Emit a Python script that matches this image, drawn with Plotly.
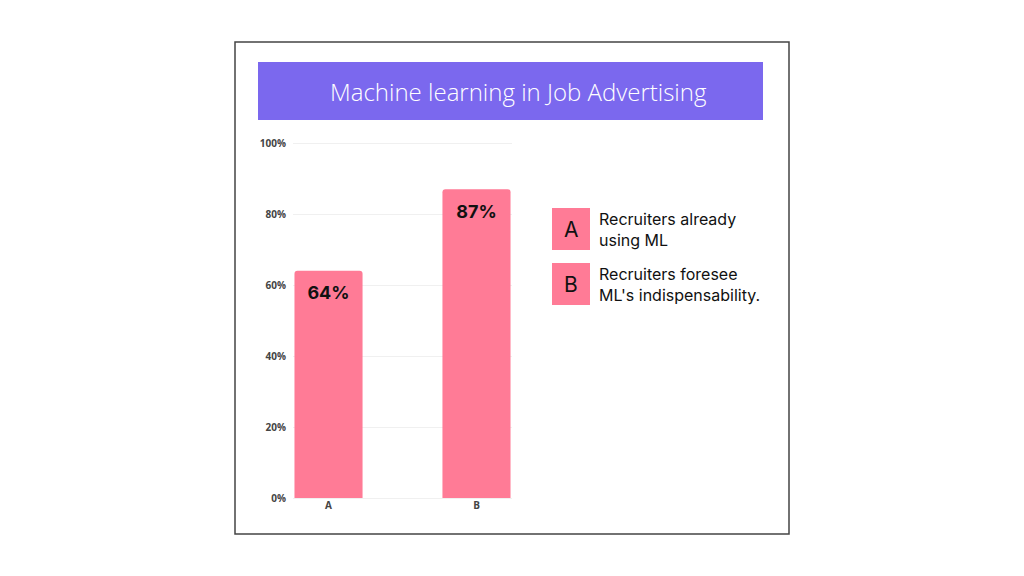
import plotly.graph_objects as go

W, H = 1024, 576

categories = ["A", "B"]
values = [64, 87]
descriptions = ["Recruiters already<br>using ML", "Recruiters foresee<br>ML's indispensability."]
title = "Machine learning in Job Advertising"
tick_vals = [0, 20, 40, 60, 80, 100]
tick_text = ["0%", "20%", "40%", "60%", "80%", "100%"]

pink = "#FF7B96"
purple = "#7B68EE"

# page body adds an 8px offset, so work in page pixels
OFF = 8


def px_x(x):
    return (x - OFF) / W


def px_y(y):
    return 1 - (y - OFF) / H


fig = go.Figure()

fig.add_trace(go.Bar(
    x=categories,
    y=values,
    width=0.46,
    marker=dict(color=pink, line=dict(width=0)),
    hoverinfo="skip",
))

# value labels sit a little below the bar tops
fig.add_trace(go.Scatter(
    x=categories,
    y=[v - 6.8 for v in values],
    mode="text",
    text=[f"{v}%" for v in values],
    textposition="middle center",
    textfont=dict(family="Inter", size=18, color="#111111", weight="bold"),
    hoverinfo="skip",
))

shapes = [
    # outer frame
    dict(type="rect", xref="paper", yref="paper",
         x0=px_x(235), x1=px_x(789), y0=px_y(534), y1=px_y(42),
         line=dict(color="#444444", width=1.5), fillcolor="rgba(0,0,0,0)", layer="below"),
    # title band
    dict(type="rect", xref="paper", yref="paper",
         x0=px_x(258), x1=px_x(763), y0=px_y(120), y1=px_y(62),
         line=dict(width=0), fillcolor=purple),
]

annotations = [
    dict(text=title, xref="paper", yref="paper", x=px_x(518), y=px_y(91),
         showarrow=False, font=dict(family="Open Sans", size=24, color="white", weight=300),
         xanchor="center", yanchor="middle"),
]

# custom legend boxes
box_tops = [208, 263]
for cat, desc, top in zip(categories, descriptions, box_tops):
    shapes.append(dict(type="rect", xref="paper", yref="paper",
                       x0=px_x(552), x1=px_x(590), y0=px_y(top + 42), y1=px_y(top),
                       line=dict(width=0), fillcolor=pink))
    annotations.append(dict(text=cat, xref="paper", yref="paper",
                            x=px_x(571), y=px_y(top + 21), showarrow=False,
                            xanchor="center", yanchor="middle",
                            font=dict(family="Inter", size=21, color="#111111")))
    annotations.append(dict(text=desc, xref="paper", yref="paper",
                            x=px_x(597), y=px_y(top + 21), showarrow=False,
                            xanchor="left", yanchor="middle", align="left",
                            font=dict(family="Inter", size=16, color="#111111")))

fig.update_layout(
    width=W, height=H,
    margin=dict(l=0, r=0, t=0, b=0, autoexpand=False),
    paper_bgcolor="white",
    plot_bgcolor="white",
    showlegend=False,
    barcornerradius=3,
    shapes=shapes,
    annotations=annotations,
    xaxis=dict(
        domain=[px_x(293), px_x(512)],
        range=[-0.24, 1.24],
        showgrid=False, showline=False, zeroline=False,
        ticks="", automargin=False,
        tickfont=dict(family="Open Sans", size=10, color="#444444", weight="bold"),
    ),
    yaxis=dict(
        domain=[px_y(498), px_y(142)],
        range=[0, 100.3],
        tickmode="array",
        tickvals=tick_vals,
        ticktext=tick_text,
        showgrid=True, gridcolor="#F0F0F0", gridwidth=1,
        zeroline=True, zerolinecolor="#F0F0F0", zerolinewidth=1,
        showline=False, ticks="", automargin=False,
        ticklabelstandoff=6,
        tickfont=dict(family="Open Sans", size=10, color="#444444", weight="bold"),
    ),
)

fig.write_html("out.html")
